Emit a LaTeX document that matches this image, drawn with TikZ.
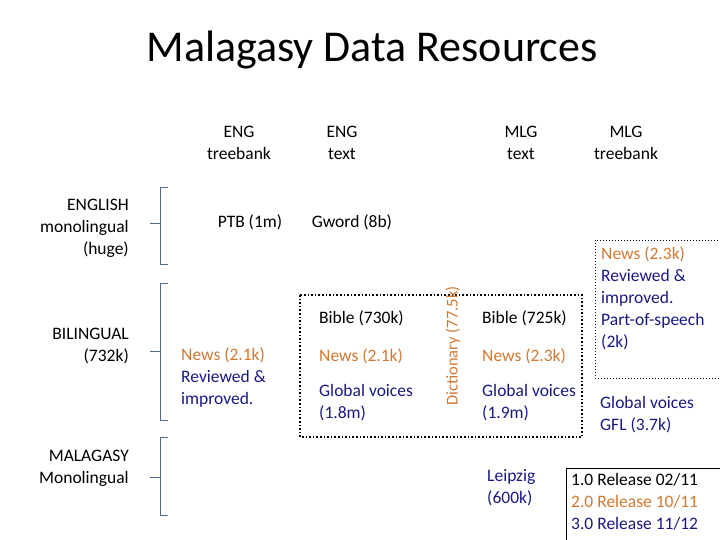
\documentclass[tikz,border=0pt]{standalone}
\usepackage{fontspec}
\setmainfont{Carlito}
\definecolor{org}{RGB}{210,120,50}
\definecolor{nav}{RGB}{25,25,130}
\definecolor{brc}{RGB}{80,110,140}
\begin{document}
\begin{tikzpicture}[x=1pt,y=-1pt,
  t/.style={font=\fontsize{17.5}{22}\selectfont,align=left,inner sep=0pt},
  hd/.style={font=\fontsize{17.5}{22}\selectfont,align=center,inner sep=0pt},
  lb/.style={font=\fontsize{17.5}{22}\selectfont,align=right,inner sep=0pt,anchor=east},
  brace/.style={draw=brc,line width=0.8pt},
  dot/.style={draw,dotted,line width=1.6pt},
  fdot/.style={draw,dotted,line width=1pt}]
\useasboundingbox (0,0) rectangle (720,540);
\node[inner sep=0pt,font=\fontsize{44}{46}\selectfont] (title) at (372,50) {Malagasy Data Resources};
\node[hd] (h1) at (239,143) {ENG\\treebank};
\node[hd] (h2) at (342,143) {ENG\\text};
\node[hd] (h3) at (521,143) {MLG\\text};
\node[hd] (h4) at (626,143) {MLG\\treebank};
\node[lb] (l1) at (129,228) {ENGLISH\\monolingual\\(huge)};
\node[lb] (l2) at (129,346) {BILINGUAL\\(732k)};
\node[lb] (l3) at (129,468) {MALAGASY\\Monolingual};
\foreach \a/\b/\m [count=\i] in {187/264/223,283/420/351,437/515/477}{
  \draw[brace] (168,\a) -- (160,\a) -- (160,\b) -- (168,\b);
  \coordinate (bt\i) at (150,\m);
  \draw[brace] (bt\i) -- (160,\m);
}
\node[t] (ptb) at (250,222) {PTB (1m)};
\node[t] (gw) at (352,222) {Gword (8b)};
\node[t,anchor=west] (n1) at (181,378) {\color{org}News (2.1k)\\\color{nav}Reviewed \&\\\color{nav}improved.};
\draw[dot] (300,295) rectangle (582,437);
\node[t,anchor=west] (b1) at (319,318) {Bible (730k)};
\node[t,anchor=west,text=org] (n2) at (319,356) {News (2.1k)};
\node[t,anchor=west,text=nav] (g1) at (319,403) {Global voices\\(1.8m)};
\node[t,rotate=90,text=org,font=\fontsize{16.5}{20}\selectfont] (dict) at (453,346) {Dictionary (77.5k)};
\node[t,anchor=west] (b2) at (482,318) {Bible (725k)};
\node[t,anchor=west,text=org] (n3) at (482,356) {News (2.3k)};
\node[t,anchor=west,text=nav] (g2) at (482,403) {Global voices\\(1.9m)};
\draw[fdot] (595,240) rectangle (721,378);
\node[t,anchor=north west] (n4) at (601,246) {\color{org}News (2.3k)\\\color{nav}Reviewed \&\\\color{nav}improved.\\\color{nav}Part-of-speech\\\color{nav}(2k)};
\node[t,anchor=west,text=nav] (g3) at (600,415) {Global voices\\GFL (3.7k)};
\node[t,anchor=west,text=nav] (lz) at (487,488) {Leipzig\\(600k)};
\draw[line width=0.8pt] (721,468) -- (566,468) -- (566,541);
\node[t,anchor=north west] (rel) at (571,473) {1.0 Release 02/11\\\color{org}2.0 Release 10/11\\\color{nav}3.0 Release 11/12};
\end{tikzpicture}
\end{document}
